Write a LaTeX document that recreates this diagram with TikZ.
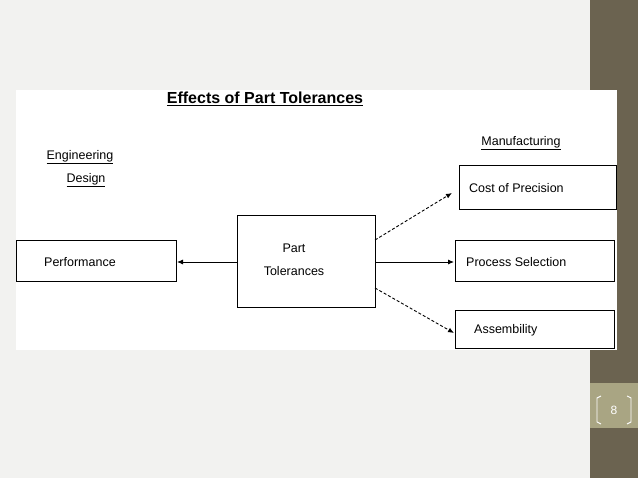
\documentclass[tikz,border=0pt]{standalone}
\usepackage{fontspec}
\setmainfont{Liberation Sans}
\usetikzlibrary{arrows.meta}
\definecolor{bg}{HTML}{F2F2F0}
\definecolor{olive}{HTML}{6B6350}
\definecolor{band}{HTML}{A9A583}
\begin{document}
\begin{tikzpicture}[x=1pt,y=-1pt,
  box/.style={draw,line width=1pt,fill=white,inner sep=0pt},
  lbl/.style={font=\fontsize{12.5}{15}\selectfont,inner sep=0pt},
  arr/.style={-{Latex[length=6pt,width=5pt]},line width=0.9pt}]
\useasboundingbox (0,0) rectangle (638,478);
\fill[bg] (0,0) rectangle (638,478);
\fill[olive] (590,0) rectangle (638,478);
\fill[band] (590,383) rectangle (638,428);
\fill[white] (16,90) rectangle (617,350);
\node[text=white,font=\fontsize{12}{14}\selectfont] (pg) at (614,410) {8};
\draw[white,line width=0.9pt] (601,396) -- (597,398) -- (597,422) -- (601,424);
\draw[white,line width=0.9pt] (627,396) -- (631,398) -- (631,422) -- (627,424);
\node[lbl,font=\bfseries\fontsize{16}{18}\selectfont] (title) at (265,99) {\underline{Effects of Part Tolerances}};
\node[lbl] (eng) at (80,157) {\underline{Engineering}};
\node[lbl] (des) at (86,180) {\underline{Design}};
\node[lbl] (man) at (521,143) {\underline{Manufacturing}};
\draw[box] (459,166) rectangle (616,210);
\node[lbl,anchor=west] (cost) at (469,188) {Cost of Precision};
\draw[box] (455,241) rectangle (614,282);
\node[lbl,anchor=west] (proc) at (466,262) {Process Selection};
\draw[box] (455,311) rectangle (614,349);
\node[lbl,anchor=west] (asm) at (474,330) {Assembility};
\draw[box] (237,216) rectangle (375,308);
\node[lbl,align=center] (part) at (294,260) {Part\\[8pt]Tolerances};
\draw[box] (16,241) rectangle (176,282);
\node[lbl,anchor=west] (perf) at (44,262) {Performance};
\coordinate (p1) at (375,240); \coordinate (a1) at (452,193);
\coordinate (p2) at (375,262); \coordinate (a2) at (454,262);
\coordinate (p3) at (375,288); \coordinate (a3) at (454,333);
\coordinate (p0) at (237,262); \coordinate (a0) at (177,262);
\draw[arr,densely dashed] (p1) -- (a1);
\draw[arr] (p2) -- (a2);
\draw[arr,densely dashed] (p3) -- (a3);
\draw[arr] (p0) -- (a0);
\end{tikzpicture}
\end{document}
